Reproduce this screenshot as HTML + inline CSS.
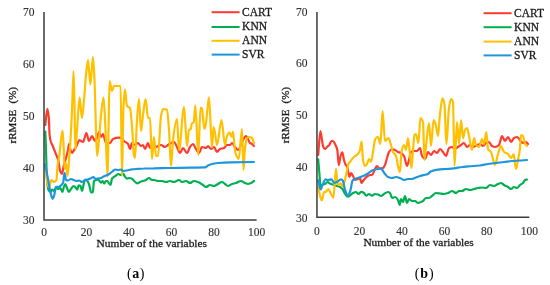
<!DOCTYPE html>
<html><head><meta charset="utf-8"><title>rRMSE vs number of variables</title>
<style>
html,body{margin:0;padding:0;background:#fff;}
body{width:550px;height:285px;overflow:hidden;position:relative;}
.wrap{position:absolute;left:0;top:0;width:550px;height:285px;filter:blur(0.3px);}
svg{position:absolute;left:0;top:0;}
svg text{font-family:"Liberation Serif","Times New Roman",serif;fill:#1c1c1c;stroke:#1c1c1c;stroke-width:0.3px;}
.tk{font-size:11.5px;fill:#333;stroke:#333;stroke-width:0.15px;}
.ti{font-size:11.4px;}
.yt{font-size:11px;}
.lg{font-size:11.5px;}
.cap{position:absolute;top:264.7px;letter-spacing:0.5px;font-family:"Liberation Serif","Times New Roman",serif;font-weight:normal;font-size:14px;line-height:18px;color:#000;}
</style></head>
<body>
<div class="wrap">
<svg width="550" height="285" viewBox="0 0 550 285">
<text x="34.4" y="15.6" text-anchor="end" class="tk">70</text>
<text x="34.4" y="67.6" text-anchor="end" class="tk">60</text>
<text x="34.4" y="119.6" text-anchor="end" class="tk">50</text>
<text x="34.4" y="171.6" text-anchor="end" class="tk">40</text>
<text x="34.4" y="223.6" text-anchor="end" class="tk">30</text>
<text x="44.0" y="236.3" text-anchor="middle" class="tk">0</text>
<text x="86.5" y="236.3" text-anchor="middle" class="tk">20</text>
<text x="129.0" y="236.3" text-anchor="middle" class="tk">40</text>
<text x="171.6" y="236.3" text-anchor="middle" class="tk">60</text>
<text x="214.1" y="236.3" text-anchor="middle" class="tk">80</text>
<text x="256.6" y="236.3" text-anchor="middle" class="tk">100</text>
<text x="151.8" y="247" text-anchor="middle" class="ti">Number of the variables</text>
<text transform="translate(15.7,143.4) rotate(-90)" class="yt">rRMSE</text>
<text transform="translate(15.7,87.0) rotate(-90)" text-anchor="end" class="yt">(%)</text>
<line x1="211.6" y1="12.2" x2="239.6" y2="12.2" stroke="#FF3B30" stroke-width="2"/>
<text x="242.1" y="16.0" class="lg">CART</text>
<line x1="211.6" y1="27.0" x2="239.6" y2="27.0" stroke="#00B050" stroke-width="2"/>
<text x="242.1" y="30.1" class="lg">KNN</text>
<line x1="211.6" y1="40.8" x2="239.6" y2="40.8" stroke="#FFC000" stroke-width="2"/>
<text x="242.1" y="44.2" class="lg">ANN</text>
<line x1="211.6" y1="54.6" x2="239.6" y2="54.6" stroke="#1E96DC" stroke-width="2"/>
<text x="242.1" y="58.3" class="lg">SVR</text>
<path d="M45.3,125.0 C46.0,119.6 46.7,108.8 47.4,108.8 C47.9,108.8 48.3,112.7 48.8,117.5 C49.1,120.2 49.3,132.6 49.6,135.0 C50.0,138.9 50.5,140.7 50.9,142.0 C51.4,143.4 51.8,143.9 52.3,145.0 C53.5,147.7 54.6,150.8 55.8,153.8 C56.7,156.1 57.5,157.5 58.4,160.8 C59.0,163.1 59.6,169.9 60.2,171.3 C60.8,172.7 61.4,174.0 62.0,174.0 C62.6,174.0 63.1,168.3 63.7,166.0 C64.5,162.9 65.2,160.9 66.0,158.0 C66.7,155.5 67.3,153.3 68.0,150.0 C68.3,148.4 68.7,144.0 69.0,144.0 C69.5,144.0 70.0,148.7 70.5,150.0 C71.0,151.3 71.5,153.0 72.0,153.0 C72.7,153.0 73.3,151.0 74.0,150.0 C74.7,149.0 75.3,148.1 76.0,147.0 C77.2,145.0 78.3,140.0 79.5,140.0 C80.0,140.0 80.5,140.7 81.0,141.0 C81.7,141.4 82.3,142.0 83.0,142.0 C84.1,142.0 85.3,133.0 86.4,133.0 C87.3,133.0 88.1,141.0 89.0,141.0 C90.0,141.0 91.0,136.0 92.0,136.0 C93.0,136.0 94.0,141.0 95.0,141.0 C95.7,141.0 96.3,139.3 97.0,138.0 C97.7,136.7 98.3,132.0 99.0,132.0 C99.7,132.0 100.3,137.0 101.0,137.0 C101.7,137.0 102.3,134.0 103.0,134.0 C104.0,134.0 105.0,143.0 106.0,143.0 C107.3,143.0 108.7,143.0 110.0,143.0 C111.0,143.0 112.0,139.4 113.0,139.0 C115.0,138.1 117.0,137.6 119.0,137.6 C119.7,137.6 120.3,137.8 121.0,138.0 C122.0,138.3 123.0,140.1 124.0,141.0 C125.3,142.2 126.7,142.4 128.0,144.0 C128.7,144.8 129.3,149.0 130.0,149.0 C130.7,149.0 131.3,143.0 132.0,143.0 C133.0,143.0 134.0,145.0 135.0,145.0 C136.0,145.0 137.0,143.0 138.0,143.0 C139.0,143.0 140.0,146.0 141.0,146.0 C141.7,146.0 142.3,145.0 143.0,145.0 C143.7,145.0 144.3,149.0 145.0,149.0 C146.0,149.0 147.0,143.0 148.0,143.0 C148.7,143.0 149.3,148.0 150.0,148.0 C152.0,148.0 154.0,147.5 156.0,147.0 C157.7,146.6 159.3,145.0 161.0,145.0 C162.3,145.0 163.7,147.0 165.0,147.0 C166.0,147.0 167.0,145.7 168.0,145.0 C169.0,144.3 170.0,143.4 171.0,143.0 C172.0,142.6 173.0,142.0 174.0,142.0 C175.0,142.0 176.0,145.2 177.0,147.0 C178.0,148.8 179.0,153.0 180.0,153.0 C181.0,153.0 182.0,148.0 183.0,148.0 C184.3,148.0 185.7,153.0 187.0,153.0 C188.0,153.0 189.0,148.3 190.0,147.0 C191.0,145.7 192.0,144.0 193.0,144.0 C194.0,144.0 195.0,147.5 196.0,149.0 C197.0,150.5 198.0,153.0 199.0,153.0 C200.0,153.0 201.0,147.0 202.0,147.0 C203.3,147.0 204.7,148.0 206.0,148.0 C206.7,148.0 207.3,146.0 208.0,146.0 C209.0,146.0 210.0,149.0 211.0,149.0 C212.0,149.0 213.0,147.0 214.0,147.0 C215.0,147.0 216.0,152.0 217.0,152.0 C218.0,152.0 219.0,149.4 220.0,149.0 C221.3,148.5 222.7,148.5 224.0,148.0 C225.0,147.6 226.0,145.0 227.0,145.0 C228.0,145.0 229.0,145.0 230.0,145.0 C230.7,145.0 231.3,143.0 232.0,143.0 C233.0,143.0 234.0,145.9 235.0,147.0 C236.0,148.1 237.0,150.0 238.0,150.0 C239.0,150.0 240.0,147.0 241.0,145.0 C241.7,143.6 242.3,141.2 243.0,140.0 C244.0,138.2 245.0,136.0 246.0,136.0 C246.7,136.0 247.3,137.9 248.0,139.0 C248.7,140.1 249.3,142.5 250.0,143.0 C250.7,143.5 251.3,143.6 252.0,144.0 C252.7,144.4 253.3,145.3 254.0,146.0" fill="none" stroke="#FF3B30" stroke-width="2.2" stroke-linejoin="round" stroke-linecap="round"/>
<path d="M45.3,131.6 C45.5,137.7 45.8,143.5 46.0,150.0 C46.3,159.3 46.7,176.1 47.0,180.0 C47.5,185.4 47.9,188.8 48.4,189.7 C49.1,191.1 49.8,192.0 50.5,192.0 C51.0,192.0 51.5,189.6 52.0,189.6 C52.7,189.6 53.3,191.0 54.0,191.0 C54.7,191.0 55.4,186.8 56.1,186.8 C56.7,186.8 57.4,189.0 58.0,189.0 C58.8,189.0 59.6,188.2 60.4,188.2 C61.1,188.2 61.8,191.8 62.5,191.8 C63.0,191.8 63.4,188.0 63.9,186.8 C64.4,185.6 64.8,184.0 65.3,184.0 C65.9,184.0 66.4,186.7 67.0,188.0 C67.6,189.3 68.2,191.8 68.8,191.8 C69.5,191.8 70.3,189.9 71.0,189.0 C71.9,187.9 72.8,186.0 73.7,186.0 C74.3,186.0 74.9,186.9 75.5,187.5 C76.1,188.1 76.6,189.6 77.2,189.6 C77.7,189.6 78.1,185.4 78.6,185.4 C79.2,185.4 79.9,185.6 80.5,186.0 C81.0,186.3 81.5,191.0 82.0,191.0 C82.5,191.0 83.0,186.9 83.5,185.0 C84.0,183.1 84.5,179.8 85.0,179.8 C85.7,179.8 86.3,180.1 87.0,180.5 C87.7,180.9 88.3,182.4 89.0,184.0 C89.7,185.8 90.5,192.5 91.2,192.5 C91.7,192.5 92.3,192.5 92.8,192.5 C93.2,192.5 93.6,181.4 94.0,181.0 C94.5,180.5 95.0,180.5 95.5,180.3 C96.3,180.0 97.2,179.5 98.0,179.5 C98.5,179.5 99.0,180.5 99.5,181.0 C100.0,181.5 100.5,182.6 101.0,182.6 C101.5,182.6 102.1,181.0 102.6,181.0 C103.1,181.0 103.7,183.4 104.2,183.4 C104.7,183.4 105.3,181.0 105.8,181.0 C106.3,181.0 106.9,181.0 107.4,181.0 C107.9,181.0 108.5,182.7 109.0,183.4 C109.5,184.0 110.0,185.0 110.5,185.0 C111.0,185.0 111.5,179.5 112.0,178.7 C112.6,177.8 113.1,177.5 113.7,177.0 C114.5,176.4 115.2,176.0 116.0,175.5 C116.8,175.0 117.6,174.0 118.4,174.0 C119.2,174.0 120.0,175.0 120.8,175.0 C121.6,175.0 122.4,173.5 123.2,173.5 C123.7,173.5 124.2,175.6 124.7,176.3 C125.5,177.3 126.2,178.7 127.0,178.7 C127.8,178.7 128.7,178.0 129.5,178.0 C130.3,178.0 131.2,178.3 132.0,178.7 C132.7,179.0 133.5,180.4 134.2,181.0 C135.3,181.9 136.3,183.4 137.4,183.4 C138.3,183.4 139.1,182.4 140.0,182.0 C141.0,181.6 142.0,181.3 143.0,181.0 C144.0,180.7 145.0,180.4 146.0,180.0 C147.0,179.6 148.0,178.0 149.0,178.0 C150.0,178.0 151.0,180.0 152.0,180.0 C152.7,180.0 153.3,180.0 154.0,180.0 C155.3,180.0 156.7,181.0 158.0,181.0 C159.3,181.0 160.7,181.0 162.0,181.0 C163.3,181.0 164.7,182.0 166.0,182.0 C167.3,182.0 168.7,181.0 170.0,181.0 C171.3,181.0 172.7,182.0 174.0,182.0 C175.7,182.0 177.3,180.0 179.0,180.0 C180.0,180.0 181.0,182.0 182.0,182.0 C183.3,182.0 184.7,181.0 186.0,181.0 C187.3,181.0 188.7,183.0 190.0,183.0 C191.3,183.0 192.7,181.0 194.0,181.0 C195.3,181.0 196.7,181.5 198.0,182.0 C199.7,182.6 201.3,183.9 203.0,185.0 C204.0,185.6 205.0,187.0 206.0,187.0 C207.3,187.0 208.7,185.0 210.0,185.0 C211.3,185.0 212.7,186.0 214.0,186.0 C215.3,186.0 216.7,184.7 218.0,184.0 C219.3,183.3 220.7,182.0 222.0,182.0 C223.0,182.0 224.0,183.3 225.0,184.0 C226.0,184.7 227.0,186.0 228.0,186.0 C229.3,186.0 230.7,184.4 232.0,184.0 C233.3,183.6 234.7,183.4 236.0,183.0 C237.7,182.5 239.3,181.0 241.0,181.0 C242.3,181.0 243.7,182.5 245.0,183.0 C246.0,183.4 247.0,184.0 248.0,184.0 C249.0,184.0 250.0,183.4 251.0,183.0 C252.0,182.6 253.0,181.7 254.0,181.0" fill="none" stroke="#00B050" stroke-width="2.2" stroke-linejoin="round" stroke-linecap="round"/>
<path d="M45.3,166.0 C46.0,172.0 46.8,181.5 47.5,184.0 C47.9,185.5 48.4,187.0 48.8,187.0 C49.7,187.0 50.5,180.0 51.4,180.0 C52.3,180.0 53.1,182.0 54.0,182.0 C54.8,182.0 55.7,181.4 56.5,180.0 C56.8,179.4 57.2,168.9 57.5,166.0 C58.1,160.9 58.7,159.8 59.3,155.5 C59.9,151.5 60.4,144.1 61.0,140.0 C61.5,136.2 62.1,130.5 62.6,130.5 C63.0,130.5 63.4,141.7 63.8,150.0 C64.0,154.9 64.3,169.0 64.5,169.0 C65.0,169.0 65.5,163.0 66.0,163.0 C66.5,163.0 67.0,176.0 67.5,176.0 C68.0,176.0 68.5,165.9 69.0,160.0 C69.5,154.1 70.0,148.0 70.5,140.0 C71.0,132.0 71.5,121.0 72.0,110.0 C72.5,98.3 73.1,71.0 73.6,71.0 C73.9,71.0 74.3,94.4 74.6,110.0 C74.8,120.9 75.1,150.0 75.3,150.0 C75.9,150.0 76.4,136.8 77.0,130.0 C77.9,119.5 78.7,97.6 79.6,97.6 C80.1,97.6 80.5,106.1 81.0,110.0 C81.3,112.8 81.7,118.0 82.0,118.0 C82.7,118.0 83.3,107.0 84.0,100.0 C84.7,93.0 85.3,81.2 86.0,75.0 C86.7,68.8 87.3,60.0 88.0,60.0 C88.8,60.0 89.6,84.4 90.4,84.4 C91.3,84.4 92.1,57.0 93.0,57.0 C93.5,57.0 94.0,69.5 94.5,80.0 C95.0,90.5 95.5,115.5 96.0,130.0 C96.3,139.7 96.7,156.0 97.0,156.0 C97.7,156.0 98.3,146.5 99.0,140.0 C99.7,133.5 100.3,120.9 101.0,115.0 C101.9,107.3 102.7,97.6 103.6,97.6 C104.2,97.6 104.9,117.8 105.5,130.0 C106.2,143.5 106.9,177.0 107.6,177.0 C107.9,177.0 108.2,144.5 108.5,130.0 C108.9,112.3 109.2,81.0 109.6,81.0 C110.4,81.0 111.2,91.0 112.0,91.0 C112.7,91.0 113.3,86.0 114.0,86.0 C115.3,86.0 116.7,86.0 118.0,86.0 C118.9,86.0 119.7,86.0 120.6,86.0 C121.1,86.0 121.5,176.0 122.0,176.0 C122.5,176.0 123.0,114.9 123.5,106.0 C124.0,97.1 124.5,89.6 125.0,89.6 C125.7,89.6 126.3,105.1 127.0,106.0 C128.0,107.3 129.0,106.7 130.0,108.0 C130.7,108.9 131.3,118.5 132.0,126.0 C132.7,133.5 133.3,153.8 134.0,156.0 C134.3,157.1 134.7,158.0 135.0,158.0 C135.7,158.0 136.3,129.0 137.0,120.0 C137.7,111.0 138.3,99.0 139.0,99.0 C139.7,99.0 140.3,131.0 141.0,131.0 C141.7,131.0 142.3,119.7 143.0,115.0 C143.9,108.9 144.7,99.0 145.6,99.0 C146.4,99.0 147.2,118.0 148.0,118.0 C148.7,118.0 149.3,118.0 150.0,118.0 C150.7,118.0 151.3,159.0 152.0,159.0 C152.7,159.0 153.3,137.0 154.0,137.0 C154.7,137.0 155.3,156.0 156.0,156.0 C156.7,156.0 157.3,156.0 158.0,156.0 C159.0,156.0 160.0,121.3 161.0,116.0 C161.7,112.4 162.3,109.0 163.0,109.0 C164.3,109.0 165.7,109.2 167.0,109.6 C167.7,109.8 168.3,121.3 169.0,130.0 C169.7,138.7 170.3,166.0 171.0,166.0 C171.7,166.0 172.3,145.2 173.0,140.0 C174.3,129.5 175.7,119.0 177.0,119.0 C177.7,119.0 178.3,150.0 179.0,150.0 C180.7,150.0 182.3,107.0 184.0,107.0 C185.0,107.0 186.0,146.0 187.0,146.0 C187.7,146.0 188.3,130.7 189.0,130.0 C189.6,129.4 190.1,129.6 190.7,129.0 C191.1,128.6 191.4,123.9 191.8,123.5 C192.4,122.8 193.1,123.1 193.7,122.4 C194.2,121.8 194.8,105.3 195.3,105.3 C196.3,105.3 197.3,155.0 198.3,155.0 C199.0,155.0 199.8,107.6 200.5,107.6 C201.0,107.6 201.5,108.1 202.0,108.7 C202.8,109.7 203.6,129.0 204.4,129.0 C204.8,129.0 205.1,127.4 205.5,126.0 C206.3,123.0 207.0,112.0 207.8,106.0 C208.2,102.9 208.6,97.3 209.0,97.3 C210.0,97.3 211.0,147.5 212.0,147.5 C212.5,147.5 213.0,127.0 213.5,127.0 C214.0,127.0 214.5,130.6 215.0,133.0 C215.7,136.2 216.3,145.0 217.0,145.0 C218.5,145.0 220.0,120.0 221.5,120.0 C222.7,120.0 223.8,145.0 225.0,145.0 C225.7,145.0 226.3,137.4 227.0,136.0 C227.8,134.3 228.7,132.7 229.5,132.7 C230.3,132.7 231.0,137.0 231.8,137.0 C232.2,137.0 232.6,131.5 233.0,131.5 C233.7,131.5 234.5,149.5 235.2,152.0 C236.4,156.0 237.5,159.0 238.7,159.0 C239.8,159.0 240.9,129.0 242.0,129.0 C242.5,129.0 243.0,170.0 243.5,170.0 C243.9,170.0 244.4,153.6 244.8,150.0 C245.5,143.8 246.3,138.7 247.0,138.0 C247.7,137.4 248.3,137.0 249.0,137.0 C250.0,137.0 251.0,137.4 252.0,138.0 C252.7,138.4 253.3,141.3 254.0,143.0" fill="none" stroke="#FFC000" stroke-width="2.2" stroke-linejoin="round" stroke-linecap="round"/>
<path d="M45.3,164.3 C45.6,166.2 46.0,168.2 46.3,170.0 C47.0,173.8 47.7,177.3 48.4,181.0 C49.1,184.7 49.8,189.8 50.5,192.5 C51.2,195.2 51.9,198.8 52.6,198.8 C53.1,198.8 53.5,197.3 54.0,196.0 C54.5,194.7 54.9,190.9 55.4,189.6 C55.9,188.3 56.3,186.8 56.8,186.8 C57.4,186.8 57.9,187.0 58.5,187.0 C59.3,187.0 60.2,186.1 61.0,185.4 C61.7,184.8 62.3,184.4 63.0,183.0 C63.5,181.9 64.1,172.8 64.6,172.8 C65.1,172.8 65.5,179.8 66.0,180.0 C66.7,180.3 67.3,180.5 68.0,180.5 C69.0,180.5 69.9,179.0 70.9,179.0 C71.8,179.0 72.6,179.7 73.5,180.0 C74.5,180.4 75.5,181.0 76.5,181.0 C77.3,181.0 78.2,180.5 79.0,180.5 C80.0,180.5 81.0,182.0 82.0,182.0 C83.0,182.0 84.0,180.3 85.0,180.0 C86.0,179.7 87.0,179.7 88.0,179.5 C88.8,179.3 89.7,178.8 90.5,178.4 C91.4,178.0 92.4,177.0 93.3,177.0 C94.0,177.0 94.8,179.0 95.5,179.0 C96.3,179.0 97.2,178.7 98.0,178.5 C99.0,178.3 100.0,178.3 101.0,178.0 C101.8,177.8 102.7,176.9 103.5,176.5 C104.3,176.1 105.2,175.8 106.0,175.5 C106.8,175.2 107.7,174.9 108.5,174.5 C109.2,174.1 109.8,173.5 110.5,173.0 C111.3,172.4 112.2,171.6 113.0,171.0 C113.8,170.4 114.5,169.5 115.3,169.5 C116.2,169.5 117.1,170.0 118.0,170.0 C119.0,170.0 120.0,169.5 121.0,169.5 C121.7,169.5 122.3,170.8 123.0,170.8 C124.3,170.8 125.7,170.7 127.0,170.5 C128.3,170.3 129.7,169.7 131.0,169.5 C132.7,169.3 134.3,169.1 136.0,169.0 C138.7,168.8 141.3,168.5 144.0,168.5 C147.3,168.4 150.7,168.4 154.0,168.4 C159.3,168.3 164.7,168.1 170.0,168.0 C176.7,167.9 183.3,167.7 190.0,167.6 C195.0,167.5 200.0,167.6 205.0,167.4 C206.0,167.4 207.0,166.0 208.0,165.5 C209.0,165.0 210.0,164.5 211.0,164.2 C213.3,163.6 215.7,163.2 218.0,163.0 C222.0,162.7 226.0,162.5 230.0,162.4 C238.0,162.2 246.0,162.1 254.0,162.0" fill="none" stroke="#1E96DC" stroke-width="2.2" stroke-linejoin="round" stroke-linecap="round"/>
<path d="M44.0,12 V220.0 H256.6" fill="none" stroke="#3c3c3c" stroke-width="1.5"/>
<text x="307.6" y="15.5" text-anchor="end" class="tk">70</text>
<text x="307.6" y="67.2" text-anchor="end" class="tk">60</text>
<text x="307.6" y="118.9" text-anchor="end" class="tk">50</text>
<text x="307.6" y="170.6" text-anchor="end" class="tk">40</text>
<text x="307.6" y="222.3" text-anchor="end" class="tk">30</text>
<text x="316.9" y="234.5" text-anchor="middle" class="tk">0</text>
<text x="359.4" y="234.5" text-anchor="middle" class="tk">20</text>
<text x="401.9" y="234.5" text-anchor="middle" class="tk">40</text>
<text x="444.4" y="234.5" text-anchor="middle" class="tk">60</text>
<text x="486.8" y="234.5" text-anchor="middle" class="tk">80</text>
<text x="529.3" y="234.5" text-anchor="middle" class="tk">100</text>
<text x="418.6" y="246" text-anchor="middle" class="ti">Number of the variables</text>
<text transform="translate(288.7,143.2) rotate(-90)" class="yt">rRMSE</text>
<text transform="translate(288.7,87.0) rotate(-90)" text-anchor="end" class="yt">(%)</text>
<line x1="483.6" y1="13.2" x2="511.6" y2="13.2" stroke="#FF3B30" stroke-width="2"/>
<text x="514.1" y="16.6" class="lg">CART</text>
<line x1="483.6" y1="27.2" x2="511.6" y2="27.2" stroke="#00B050" stroke-width="2"/>
<text x="514.1" y="30.7" class="lg">KNN</text>
<line x1="483.6" y1="41.6" x2="511.6" y2="41.6" stroke="#FFC000" stroke-width="2"/>
<text x="514.1" y="44.8" class="lg">ANN</text>
<line x1="483.6" y1="55.4" x2="511.6" y2="55.4" stroke="#1E96DC" stroke-width="2"/>
<text x="514.1" y="58.9" class="lg">SVR</text>
<path d="M318.2,155.0 C318.9,147.1 319.7,131.2 320.4,131.2 C320.9,131.2 321.5,137.0 322.0,140.0 C322.4,142.2 322.8,145.8 323.2,146.7 C323.8,148.0 324.4,149.0 325.0,149.0 C325.7,149.0 326.3,147.6 327.0,147.0 C327.7,146.4 328.3,146.0 329.0,145.3 C329.9,144.3 330.7,141.0 331.6,141.0 C332.1,141.0 332.5,141.0 333.0,141.0 C333.7,141.0 334.3,142.7 335.0,144.0 C335.8,145.5 336.5,146.7 337.3,150.0 C337.8,152.2 338.3,165.0 338.8,165.0 C339.3,165.0 339.8,158.7 340.3,157.0 C341.0,154.8 341.6,152.3 342.3,152.3 C342.9,152.3 343.4,158.0 344.0,160.0 C344.6,162.0 345.1,164.3 345.7,165.0 C346.1,165.5 346.6,165.4 347.0,166.0 C347.5,166.7 348.0,171.2 348.5,173.3 C348.8,174.7 349.2,177.0 349.5,177.0 C350.0,177.0 350.5,173.0 351.0,173.0 C351.7,173.0 352.3,174.9 353.0,176.0 C353.7,177.1 354.3,180.0 355.0,180.0 C356.0,180.0 357.0,179.4 358.0,179.0 C358.7,178.7 359.3,178.0 360.0,178.0 C360.5,178.0 360.9,183.0 361.4,183.0 C361.9,183.0 362.5,181.7 363.0,181.0 C364.0,179.8 365.0,178.3 366.0,177.4 C366.7,176.8 367.3,176.4 368.0,176.0 C368.7,175.6 369.3,175.0 370.0,175.0 C370.7,175.0 371.3,175.0 372.0,175.0 C373.0,175.0 374.0,170.7 375.0,169.0 C375.7,167.9 376.3,166.0 377.0,166.0 C378.0,166.0 379.0,169.0 380.0,169.0 C381.0,169.0 382.0,168.6 383.0,168.0 C383.7,167.6 384.3,166.4 385.0,165.0 C385.7,163.6 386.3,160.2 387.0,158.0 C387.7,155.8 388.3,153.0 389.0,152.0 C390.0,150.4 391.0,149.0 392.0,149.0 C393.0,149.0 394.0,149.6 395.0,150.0 C396.0,150.4 397.0,151.6 398.0,152.0 C399.0,152.4 400.0,152.5 401.0,153.0 C402.0,153.5 403.0,154.5 404.0,156.0 C405.0,157.5 406.0,166.0 407.0,166.0 C407.7,166.0 408.3,162.3 409.0,160.0 C409.7,157.7 410.3,152.4 411.0,152.0 C412.0,151.3 413.0,151.0 414.0,151.0 C415.0,151.0 416.0,151.0 417.0,151.0 C418.0,151.0 419.0,148.0 420.0,148.0 C420.7,148.0 421.3,154.9 422.0,156.0 C423.0,157.7 424.0,159.0 425.0,159.0 C426.0,159.0 427.0,152.0 428.0,152.0 C429.0,152.0 430.0,155.0 431.0,155.0 C432.0,155.0 433.0,151.0 434.0,151.0 C435.0,151.0 436.0,153.0 437.0,153.0 C438.0,153.0 439.0,149.0 440.0,149.0 C441.0,149.0 442.0,150.9 443.0,152.0 C444.0,153.1 445.0,156.0 446.0,156.0 C447.0,156.0 448.0,148.6 449.0,148.0 C450.0,147.4 451.0,147.0 452.0,147.0 C453.0,147.0 454.0,149.0 455.0,149.0 C456.0,149.0 457.0,147.7 458.0,147.0 C459.0,146.3 460.0,145.7 461.0,145.0 C462.0,144.3 463.0,143.0 464.0,143.0 C465.0,143.0 466.0,147.0 467.0,147.0 C468.0,147.0 469.0,145.0 470.0,145.0 C471.0,145.0 472.0,147.0 473.0,147.0 C474.3,147.0 475.7,145.5 477.0,145.0 C478.0,144.6 479.0,144.0 480.0,144.0 C481.0,144.0 482.0,146.0 483.0,146.0 C484.0,146.0 485.0,143.5 486.0,143.0 C487.0,142.5 488.0,142.0 489.0,142.0 C490.0,142.0 491.0,145.5 492.0,146.0 C493.0,146.5 494.0,147.0 495.0,147.0 C496.3,147.0 497.7,146.2 499.0,145.0 C500.0,144.1 501.0,136.0 502.0,136.0 C503.0,136.0 504.0,141.0 505.0,141.0 C506.0,141.0 507.0,137.0 508.0,137.0 C509.0,137.0 510.0,142.0 511.0,142.0 C512.0,142.0 513.0,138.5 514.0,138.0 C515.0,137.5 516.0,137.0 517.0,137.0 C518.0,137.0 519.0,139.0 520.0,140.0 C521.0,141.0 522.0,143.0 523.0,143.0 C524.0,143.0 525.0,142.0 526.0,142.0 C526.7,142.0 527.3,143.3 528.0,144.0" fill="none" stroke="#FF3B30" stroke-width="2.2" stroke-linejoin="round" stroke-linecap="round"/>
<path d="M318.2,159.3 C318.6,164.5 319.1,170.0 319.5,175.0 C319.9,179.2 320.2,187.0 320.6,187.0 C321.4,187.0 322.2,184.8 323.0,184.5 C323.7,184.2 324.3,184.2 325.0,184.0 C325.9,183.7 326.7,182.0 327.6,182.0 C328.4,182.0 329.2,183.1 330.0,183.5 C331.3,184.1 332.7,184.5 334.0,185.0 C335.0,185.4 336.0,185.7 337.0,186.0 C338.0,186.3 339.0,186.5 340.0,187.0 C340.8,187.4 341.7,188.1 342.5,189.0 C343.3,189.9 344.2,192.7 345.0,193.8 C346.0,195.1 346.9,196.7 347.9,196.7 C348.8,196.7 349.6,195.6 350.5,195.0 C351.5,194.3 352.6,193.3 353.6,192.8 C354.4,192.4 355.2,192.0 356.0,192.0 C356.8,192.0 357.7,193.8 358.5,193.8 C359.5,193.8 360.4,191.9 361.4,191.9 C362.3,191.9 363.1,192.4 364.0,193.0 C364.7,193.5 365.5,195.7 366.2,195.7 C367.1,195.7 368.1,194.0 369.0,194.0 C370.0,194.0 371.0,195.7 372.0,195.7 C373.0,195.7 374.0,194.0 375.0,194.0 C376.0,194.0 377.0,194.2 378.0,194.5 C379.0,194.8 380.0,196.0 381.0,196.0 C382.0,196.0 383.0,194.6 384.0,194.0 C385.3,193.2 386.7,192.0 388.0,192.0 C388.7,192.0 389.3,192.4 390.0,193.0 C390.7,193.6 391.3,198.0 392.0,198.0 C393.0,198.0 394.0,197.0 395.0,197.0 C396.0,197.0 397.0,198.4 398.0,200.0 C398.5,200.9 399.1,205.0 399.6,205.0 C400.1,205.0 400.5,199.0 401.0,199.0 C401.7,199.0 402.3,202.0 403.0,202.0 C403.7,202.0 404.3,196.0 405.0,196.0 C405.7,196.0 406.3,203.0 407.0,203.0 C407.7,203.0 408.3,199.0 409.0,199.0 C410.0,199.0 411.0,201.0 412.0,201.0 C413.0,201.0 414.0,201.0 415.0,201.0 C416.0,201.0 417.0,203.0 418.0,203.0 C419.0,203.0 420.0,202.4 421.0,202.0 C421.7,201.7 422.3,201.4 423.0,201.0 C424.0,200.3 425.0,198.0 426.0,198.0 C427.0,198.0 428.0,198.0 429.0,198.0 C430.0,198.0 431.0,196.7 432.0,196.0 C433.3,195.1 434.7,193.0 436.0,193.0 C437.3,193.0 438.7,193.3 440.0,193.5 C441.3,193.7 442.7,194.0 444.0,194.0 C445.3,194.0 446.7,193.4 448.0,193.0 C449.3,192.6 450.7,191.0 452.0,191.0 C453.3,191.0 454.7,193.0 456.0,193.0 C457.0,193.0 458.0,191.0 459.0,191.0 C460.0,191.0 461.0,191.0 462.0,191.0 C463.3,191.0 464.7,189.0 466.0,189.0 C467.3,189.0 468.7,190.0 470.0,190.0 C471.3,190.0 472.7,189.3 474.0,189.0 C475.3,188.7 476.7,188.2 478.0,188.0 C479.3,187.8 480.7,187.5 482.0,187.5 C483.3,187.5 484.7,188.0 486.0,188.0 C487.3,188.0 488.7,185.0 490.0,185.0 C491.3,185.0 492.7,186.0 494.0,186.0 C495.3,186.0 496.7,184.5 498.0,184.0 C499.0,183.6 500.0,183.0 501.0,183.0 C502.0,183.0 503.0,184.4 504.0,185.0 C505.3,185.8 506.7,186.2 508.0,187.0 C509.0,187.6 510.0,189.0 511.0,189.0 C512.0,189.0 513.0,187.0 514.0,187.0 C515.0,187.0 516.0,188.0 517.0,188.0 C518.0,188.0 519.0,185.8 520.0,185.0 C521.0,184.2 522.0,183.9 523.0,183.0 C523.7,182.4 524.3,180.3 525.0,180.0 C525.7,179.7 526.3,179.7 527.0,179.5" fill="none" stroke="#00B050" stroke-width="2.2" stroke-linejoin="round" stroke-linecap="round"/>
<path d="M318.2,187.0 C319.0,190.5 319.7,195.4 320.5,197.6 C320.9,198.9 321.4,200.5 321.8,200.5 C322.5,200.5 323.3,192.1 324.0,192.0 C324.6,191.9 325.1,192.0 325.7,191.9 C326.6,191.8 327.6,189.0 328.5,189.0 C329.2,189.0 329.8,191.8 330.5,193.0 C331.5,194.7 332.4,197.6 333.4,197.6 C334.3,197.6 335.1,168.8 336.0,168.8 C336.5,168.8 336.9,183.7 337.4,184.0 C338.0,184.4 338.6,184.6 339.2,184.6 C339.6,184.6 340.1,183.0 340.5,183.0 C341.2,183.0 342.0,187.0 342.7,187.0 C343.3,187.0 343.9,184.1 344.5,182.0 C345.3,179.2 346.2,174.1 347.0,170.5 C347.6,167.9 348.2,163.8 348.8,163.0 C349.2,162.5 349.6,162.4 350.0,162.0 C350.7,161.3 351.3,159.8 352.0,159.0 C353.0,157.8 354.0,156.8 355.0,156.0 C356.0,155.2 357.0,155.0 358.0,154.0 C358.7,153.3 359.3,152.0 360.0,150.0 C360.5,148.4 361.1,141.5 361.6,141.5 C362.1,141.5 362.5,157.6 363.0,160.0 C363.7,163.4 364.3,166.0 365.0,166.0 C365.7,166.0 366.3,165.0 367.0,164.0 C367.7,163.0 368.3,159.0 369.0,159.0 C369.7,159.0 370.3,162.0 371.0,162.0 C371.7,162.0 372.3,155.6 373.0,152.0 C373.7,148.4 374.3,141.9 375.0,140.0 C375.3,139.1 375.7,138.3 376.0,138.0 C376.7,137.4 377.3,137.0 378.0,137.0 C378.8,137.0 379.6,144.0 380.4,144.0 C381.1,144.0 381.9,111.0 382.6,111.0 C383.4,111.0 384.2,141.0 385.0,141.0 C386.1,141.0 387.3,138.0 388.4,138.0 C389.3,138.0 390.1,142.3 391.0,145.0 C391.7,147.0 392.3,150.7 393.0,152.0 C394.0,154.0 395.0,153.8 396.0,156.0 C396.7,157.5 397.3,163.5 398.0,166.0 C398.7,168.5 399.3,172.0 400.0,172.0 C400.5,172.0 401.0,154.4 401.5,152.0 C402.3,147.9 403.2,145.0 404.0,145.0 C404.7,145.0 405.3,150.0 406.0,150.0 C406.7,150.0 407.3,138.0 408.0,138.0 C408.7,138.0 409.3,149.3 410.0,155.0 C410.5,159.3 411.0,168.0 411.5,168.0 C412.0,168.0 412.5,155.5 413.0,150.0 C413.5,144.5 414.0,135.6 414.5,135.0 C415.0,134.4 415.5,134.0 416.0,134.0 C416.8,134.0 417.6,143.0 418.4,143.0 C419.1,143.0 419.7,118.0 420.4,118.0 C421.3,118.0 422.1,119.3 423.0,122.0 C423.5,123.6 424.0,160.0 424.5,160.0 C425.0,160.0 425.5,150.3 426.0,146.0 C427.0,137.5 428.0,123.0 429.0,123.0 C429.7,123.0 430.3,146.0 431.0,146.0 C431.9,146.0 432.7,120.0 433.6,120.0 C434.3,120.0 434.9,122.1 435.6,124.0 C436.4,126.3 437.2,136.0 438.0,136.0 C438.7,136.0 439.3,119.5 440.0,114.0 C440.8,107.4 441.6,98.4 442.4,98.4 C443.1,98.4 443.7,100.7 444.4,104.0 C445.1,107.3 445.7,144.0 446.4,144.0 C447.3,144.0 448.1,113.8 449.0,108.0 C449.7,103.6 450.3,99.0 451.0,99.0 C451.7,99.0 452.3,100.0 453.0,102.0 C453.5,103.5 454.0,166.0 454.5,166.0 C455.3,166.0 456.2,122.0 457.0,122.0 C457.7,122.0 458.3,144.0 459.0,144.0 C459.7,144.0 460.3,120.0 461.0,120.0 C461.7,120.0 462.3,138.0 463.0,138.0 C463.7,138.0 464.3,131.1 465.0,130.0 C465.7,128.9 466.3,128.0 467.0,128.0 C467.7,128.0 468.3,133.1 469.0,136.0 C470.0,140.3 471.0,150.0 472.0,150.0 C472.7,150.0 473.3,138.0 474.0,138.0 C474.7,138.0 475.3,144.2 476.0,145.0 C477.0,146.2 478.0,147.0 479.0,147.0 C480.0,147.0 481.0,139.0 482.0,139.0 C482.7,139.0 483.3,144.0 484.0,144.0 C484.8,144.0 485.6,132.0 486.4,132.0 C486.9,132.0 487.5,147.9 488.0,149.0 C489.0,151.0 490.0,150.5 491.0,152.0 C492.3,154.0 493.7,165.0 495.0,165.0 C496.0,165.0 497.0,157.1 498.0,154.0 C499.0,150.9 500.0,146.0 501.0,146.0 C502.0,146.0 503.0,151.2 504.0,152.0 C505.3,153.1 506.7,153.0 508.0,154.0 C509.0,154.7 510.0,158.0 511.0,158.0 C511.9,158.0 512.7,154.0 513.6,154.0 C514.4,154.0 515.2,169.0 516.0,169.0 C516.7,169.0 517.3,163.4 518.0,160.0 C518.7,156.6 519.3,153.7 520.0,148.0 C520.3,145.1 520.7,135.0 521.0,135.0 C521.7,135.0 522.3,135.4 523.0,136.0 C523.7,136.6 524.3,142.9 525.0,144.0 C525.7,145.1 526.3,145.3 527.0,146.0" fill="none" stroke="#FFC000" stroke-width="2.2" stroke-linejoin="round" stroke-linecap="round"/>
<path d="M318.2,180.4 C319.0,183.4 319.8,189.5 320.6,189.5 C321.3,189.5 322.1,185.5 322.8,184.0 C323.8,182.1 324.7,179.3 325.7,179.3 C326.5,179.3 327.2,180.0 328.0,180.0 C329.1,180.0 330.3,179.3 331.4,179.3 C332.4,179.3 333.3,183.0 334.3,183.0 C335.2,183.0 336.1,182.4 337.0,182.0 C338.3,181.4 339.7,179.3 341.0,179.3 C341.7,179.3 342.3,180.0 343.0,181.0 C343.7,182.0 344.3,188.1 345.0,190.0 C346.0,192.7 346.9,195.7 347.9,195.7 C348.6,195.7 349.3,193.7 350.0,192.0 C350.9,189.8 351.8,181.2 352.7,180.3 C353.5,179.5 354.2,179.3 355.0,179.0 C356.5,178.3 357.9,178.0 359.4,177.4 C361.0,176.8 362.7,176.1 364.3,175.4 C365.5,174.8 366.8,174.2 368.0,173.5 C369.3,172.7 370.7,171.2 372.0,170.6 C373.0,170.1 374.0,169.7 375.0,169.5 C376.0,169.3 377.0,169.2 378.0,169.0 C379.0,168.8 380.0,168.0 381.0,168.0 C381.7,168.0 382.3,170.0 383.0,171.0 C383.7,172.0 384.3,173.2 385.0,174.0 C386.0,175.2 387.0,176.6 388.0,177.0 C389.3,177.5 390.7,178.0 392.0,178.0 C393.3,178.0 394.7,177.0 396.0,177.0 C397.3,177.0 398.7,177.6 400.0,178.0 C401.3,178.4 402.7,180.0 404.0,180.0 C405.3,180.0 406.7,179.0 408.0,179.0 C409.3,179.0 410.7,179.0 412.0,179.0 C413.3,179.0 414.7,178.0 416.0,177.5 C417.3,177.0 418.7,176.4 420.0,176.0 C421.3,175.6 422.7,175.3 424.0,175.0 C425.3,174.7 426.7,174.6 428.0,174.0 C428.7,173.7 429.3,172.4 430.0,172.0 C430.7,171.6 431.3,171.2 432.0,171.0 C434.0,170.3 436.0,169.8 438.0,169.6 C440.7,169.3 443.3,169.2 446.0,169.0 C448.7,168.8 451.3,168.7 454.0,168.4 C456.7,168.1 459.3,167.3 462.0,167.0 C464.0,166.7 466.0,166.6 468.0,166.4 C470.0,166.2 472.0,166.1 474.0,166.0 C476.0,165.9 478.0,165.7 480.0,165.5 C482.7,165.2 485.3,164.4 488.0,164.0 C490.7,163.6 493.3,163.3 496.0,163.0 C498.7,162.7 501.3,162.3 504.0,162.0 C506.7,161.7 509.3,161.2 512.0,161.0 C514.7,160.8 517.3,160.7 520.0,160.5 C522.3,160.3 524.7,160.2 527.0,160.0" fill="none" stroke="#1E96DC" stroke-width="2.2" stroke-linejoin="round" stroke-linecap="round"/>
<path d="M316.95,12 V217.2 H529.3" fill="none" stroke="#3c3c3c" stroke-width="1.5"/>
</svg>
<div class="cap" style="left:127px">(<b>a</b>)</div>
<div class="cap" style="left:414.7px;letter-spacing:0.9px">(<b>b</b>)</div>
</div>
</body></html>
